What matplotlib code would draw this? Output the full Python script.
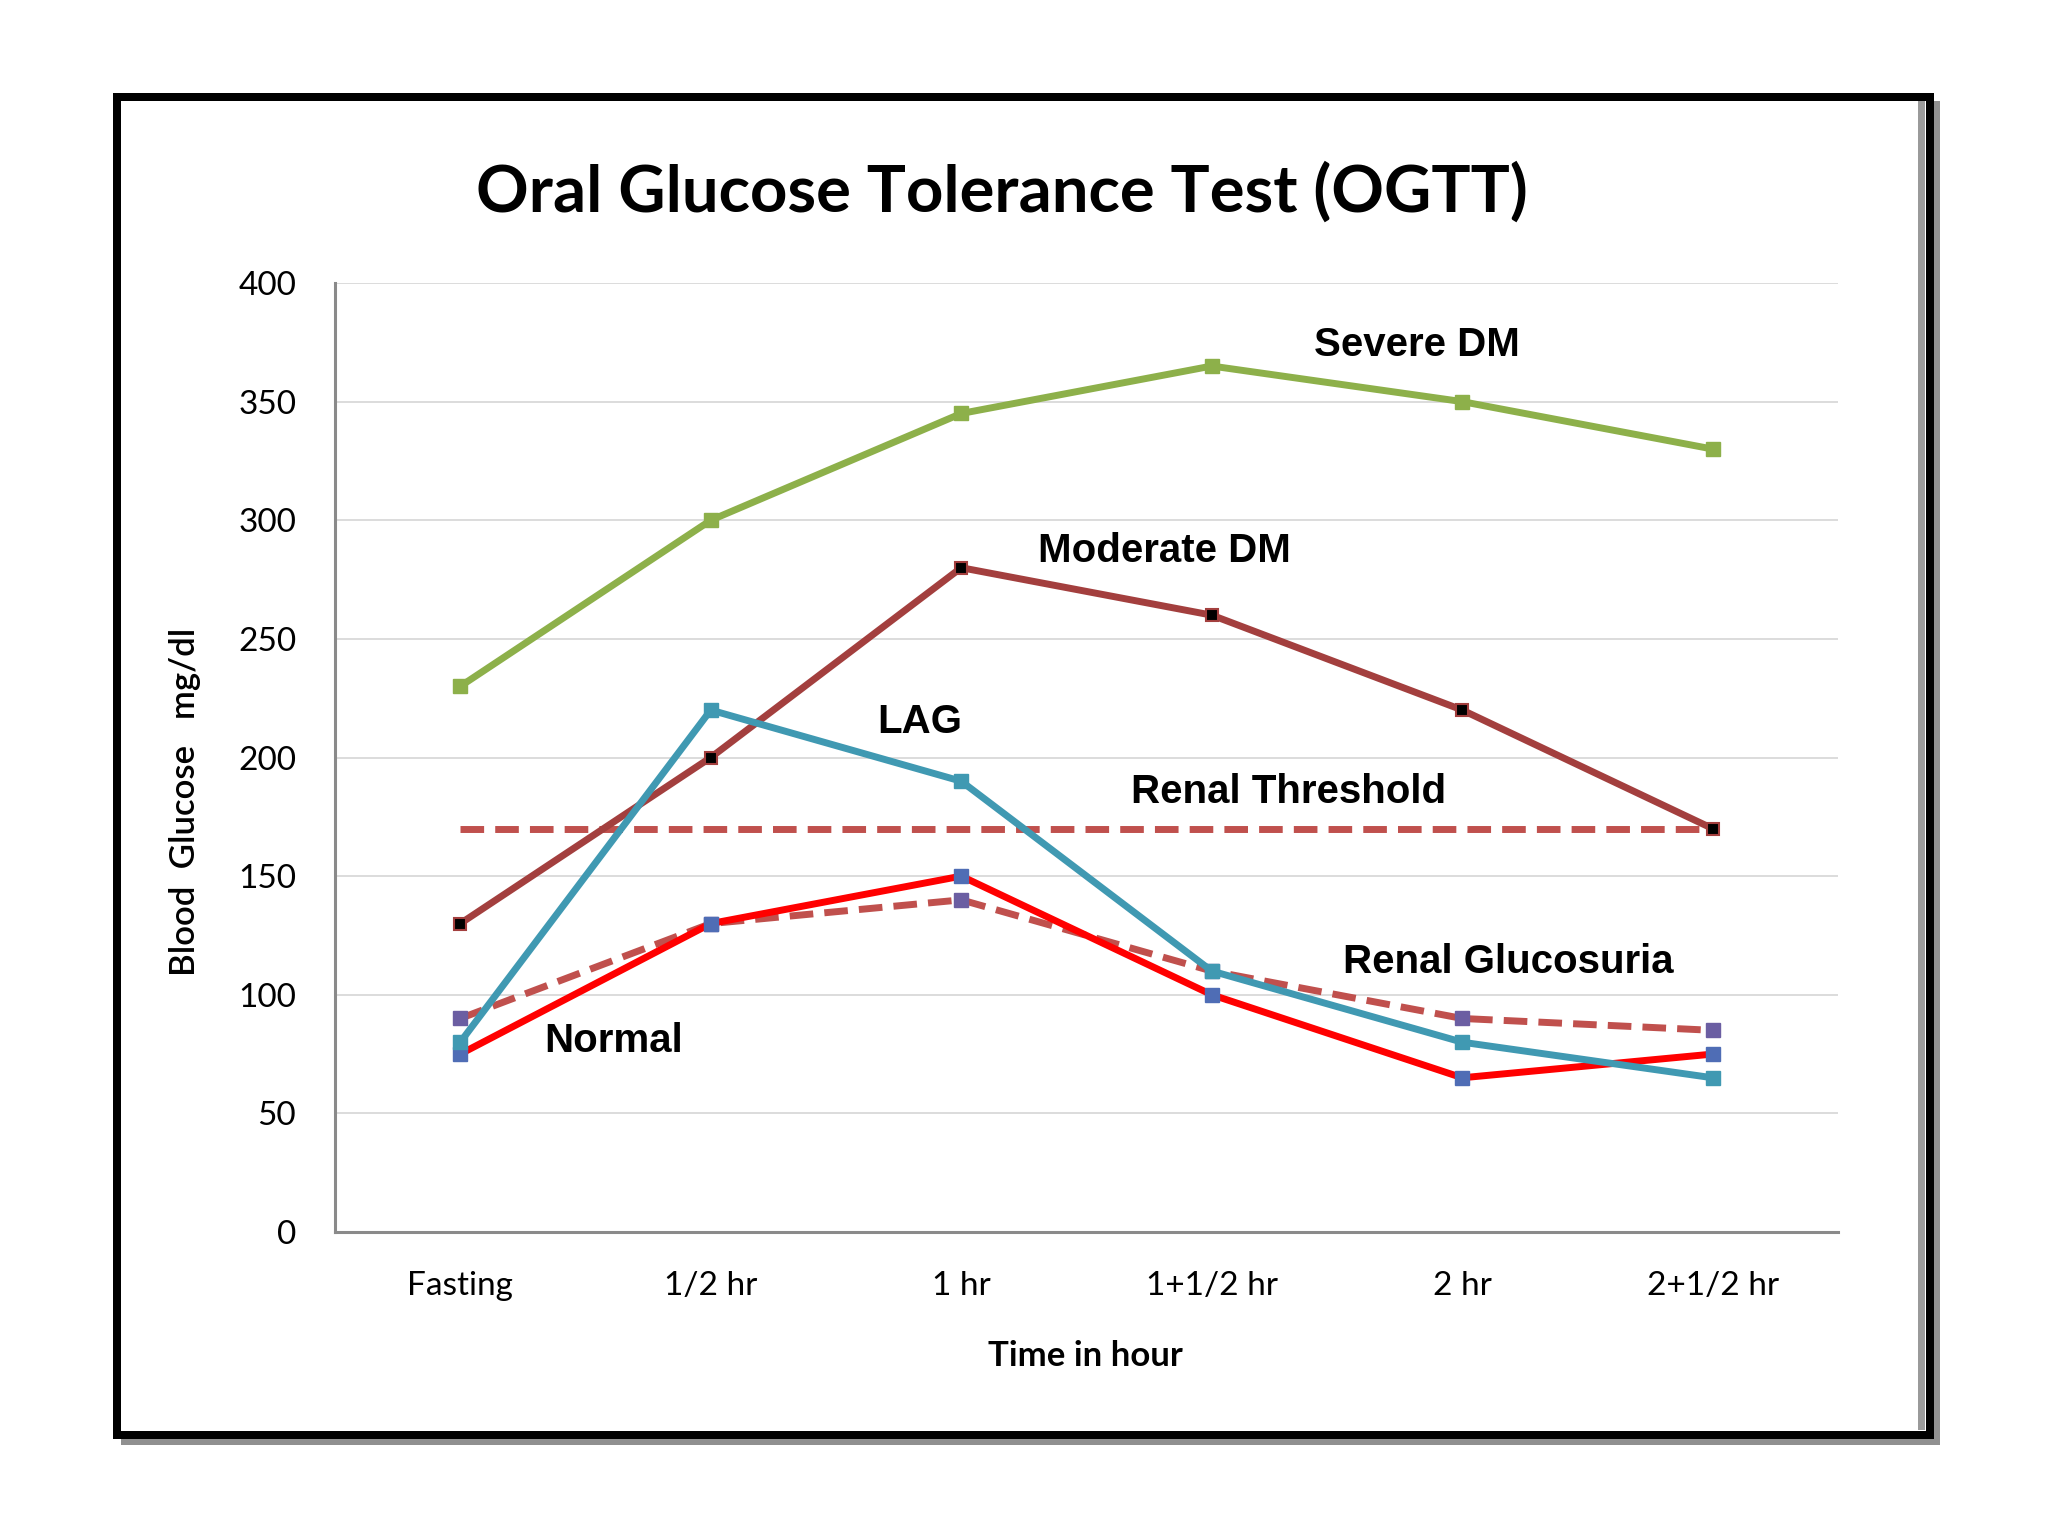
import matplotlib
matplotlib.use("Agg")
import matplotlib.pyplot as plt
from matplotlib.patches import Rectangle

categories = ["Fasting", "1/2 hr", "1 hr", "1+1/2 hr", "2 hr", "2+1/2 hr"]
severe_dm = [230, 300, 345, 365, 350, 330]
moderate_dm = [130, 200, 280, 260, 220, 170]
lag = [80, 220, 190, 110, 80, 65]
normal = [75, 130, 150, 100, 65, 75]
renal_glucosuria = [90, 130, 140, 110, 90, 85]
renal_threshold = [170, 170, 170, 170, 170, 170]
yticks = [0, 50, 100, 150, 200, 250, 300, 350, 400]

W, H = 2048, 1536
fig = plt.figure(figsize=(W / 100, H / 100), dpi=100)
fig.patch.set_facecolor("white")


def fx(px):
    return px / W


def fy(py):
    return 1 - py / H


shadow = Rectangle((fx(121), fy(1445)), fx(1940) - fx(121), fy(101) - fy(1445),
                   transform=fig.transFigure, facecolor="#909090", edgecolor="none", zorder=0)
fig.patches.append(shadow)
frame = Rectangle((fx(117), fy(1435)), fx(1930) - fx(117), fy(97) - fy(1435),
                  transform=fig.transFigure, facecolor="white", edgecolor="black",
                  linewidth=8 * 0.72, zorder=1)
fig.patches.append(frame)
inner = Rectangle((fx(1918), fy(1430)), fx(1925) - fx(1918), fy(101) - fy(1430),
                  transform=fig.transFigure, facecolor="#9a9a9a", edgecolor="none", zorder=2)
fig.patches.append(inner)

ax = fig.add_axes([335 / W, 1 - 1232 / H, 1503 / W, 949 / H])
ax.set_facecolor("none")
ax.set_zorder(3)
x = list(range(len(categories)))

lw = 5.0
ms = 10
dash = (3.4, 1.6)
ax.plot(x, renal_threshold, color="#C0504D", lw=lw, dashes=dash, zorder=3)
ax.plot(x, moderate_dm, color="#A33F3E", lw=lw, marker="s", ms=ms - 1,
        mfc="black", mec="#A33F3E", mew=1.5, zorder=4)
ax.plot(x, severe_dm, color="#8DB04A", lw=lw, marker="s", ms=ms,
        mfc="#8DB04A", mec="#8DB04A", zorder=4)
ax.plot(x, renal_glucosuria, color="#C0504D", lw=lw, dashes=dash,
        marker="s", ms=ms, mfc="#6B5EA2", mec="#6B5EA2", zorder=5)
ax.plot(x, normal, color="#FF0000", lw=lw, marker="s", ms=ms,
        mfc="#4F6DB5", mec="#4F6DB5", zorder=6)
ax.plot(x, lag, color="#4099B2", lw=lw, marker="s", ms=ms,
        mfc="#4099B2", mec="#4099B2", zorder=7)

ax.set_xlim(-0.5, 5.5)
ax.set_ylim(0, 400)
ax.set_yticks(yticks)
ax.set_xticks(x)
ax.set_xticklabels(categories, fontfamily="Lato", fontsize=24)
ax.set_yticklabels([str(v) for v in yticks], fontfamily="Lato", fontsize=24)
ax.tick_params(axis="both", length=0)
ax.tick_params(axis="y", pad=28)
ax.tick_params(axis="x", pad=28)
ax.grid(axis="y", color="#D9D9D9", lw=1.3, zorder=0)
ax.set_axisbelow(True)
for s in ["top", "right"]:
    ax.spines[s].set_visible(False)
for s in ["left", "bottom"]:
    ax.spines[s].set_color("#8A8A8A")
    ax.spines[s].set_linewidth(2.2)

lab = dict(fontfamily="Liberation Sans", fontweight="bold", fontsize=29,
           ha="left", va="center", color="black", zorder=10)
ax.text(3.41, 374, "Severe DM", **lab)
ax.text(2.307, 287, "Moderate DM", **lab)
ax.text(1.664, 215, "LAG", **lab)
ax.text(2.678, 185.5, "Renal Threshold", **lab)
ax.text(3.525, 114, "Renal Glucosuria", **lab)
ax.text(0.336, 80.5, "Normal", **lab)

fig.text(1002 / W, 1 - 192 / H, "Oral Glucose Tolerance Test (OGTT)",
         fontfamily="Lato", fontweight="bold", fontsize=47, ha="center", va="center", zorder=10)
fig.text(1085 / W, 1 - 1356 / H, "Time in hour", fontfamily="Lato", fontweight="bold",
         fontsize=25, ha="center", va="center", zorder=10)
fig.text(185 / W, 1 - 802 / H, "Blood  Glucose   mg/dl", fontfamily="Lato", fontweight="semibold",
         fontsize=25, ha="center", va="center", rotation=90, zorder=10)

fig.savefig("out.png", dpi=100, facecolor="white")
